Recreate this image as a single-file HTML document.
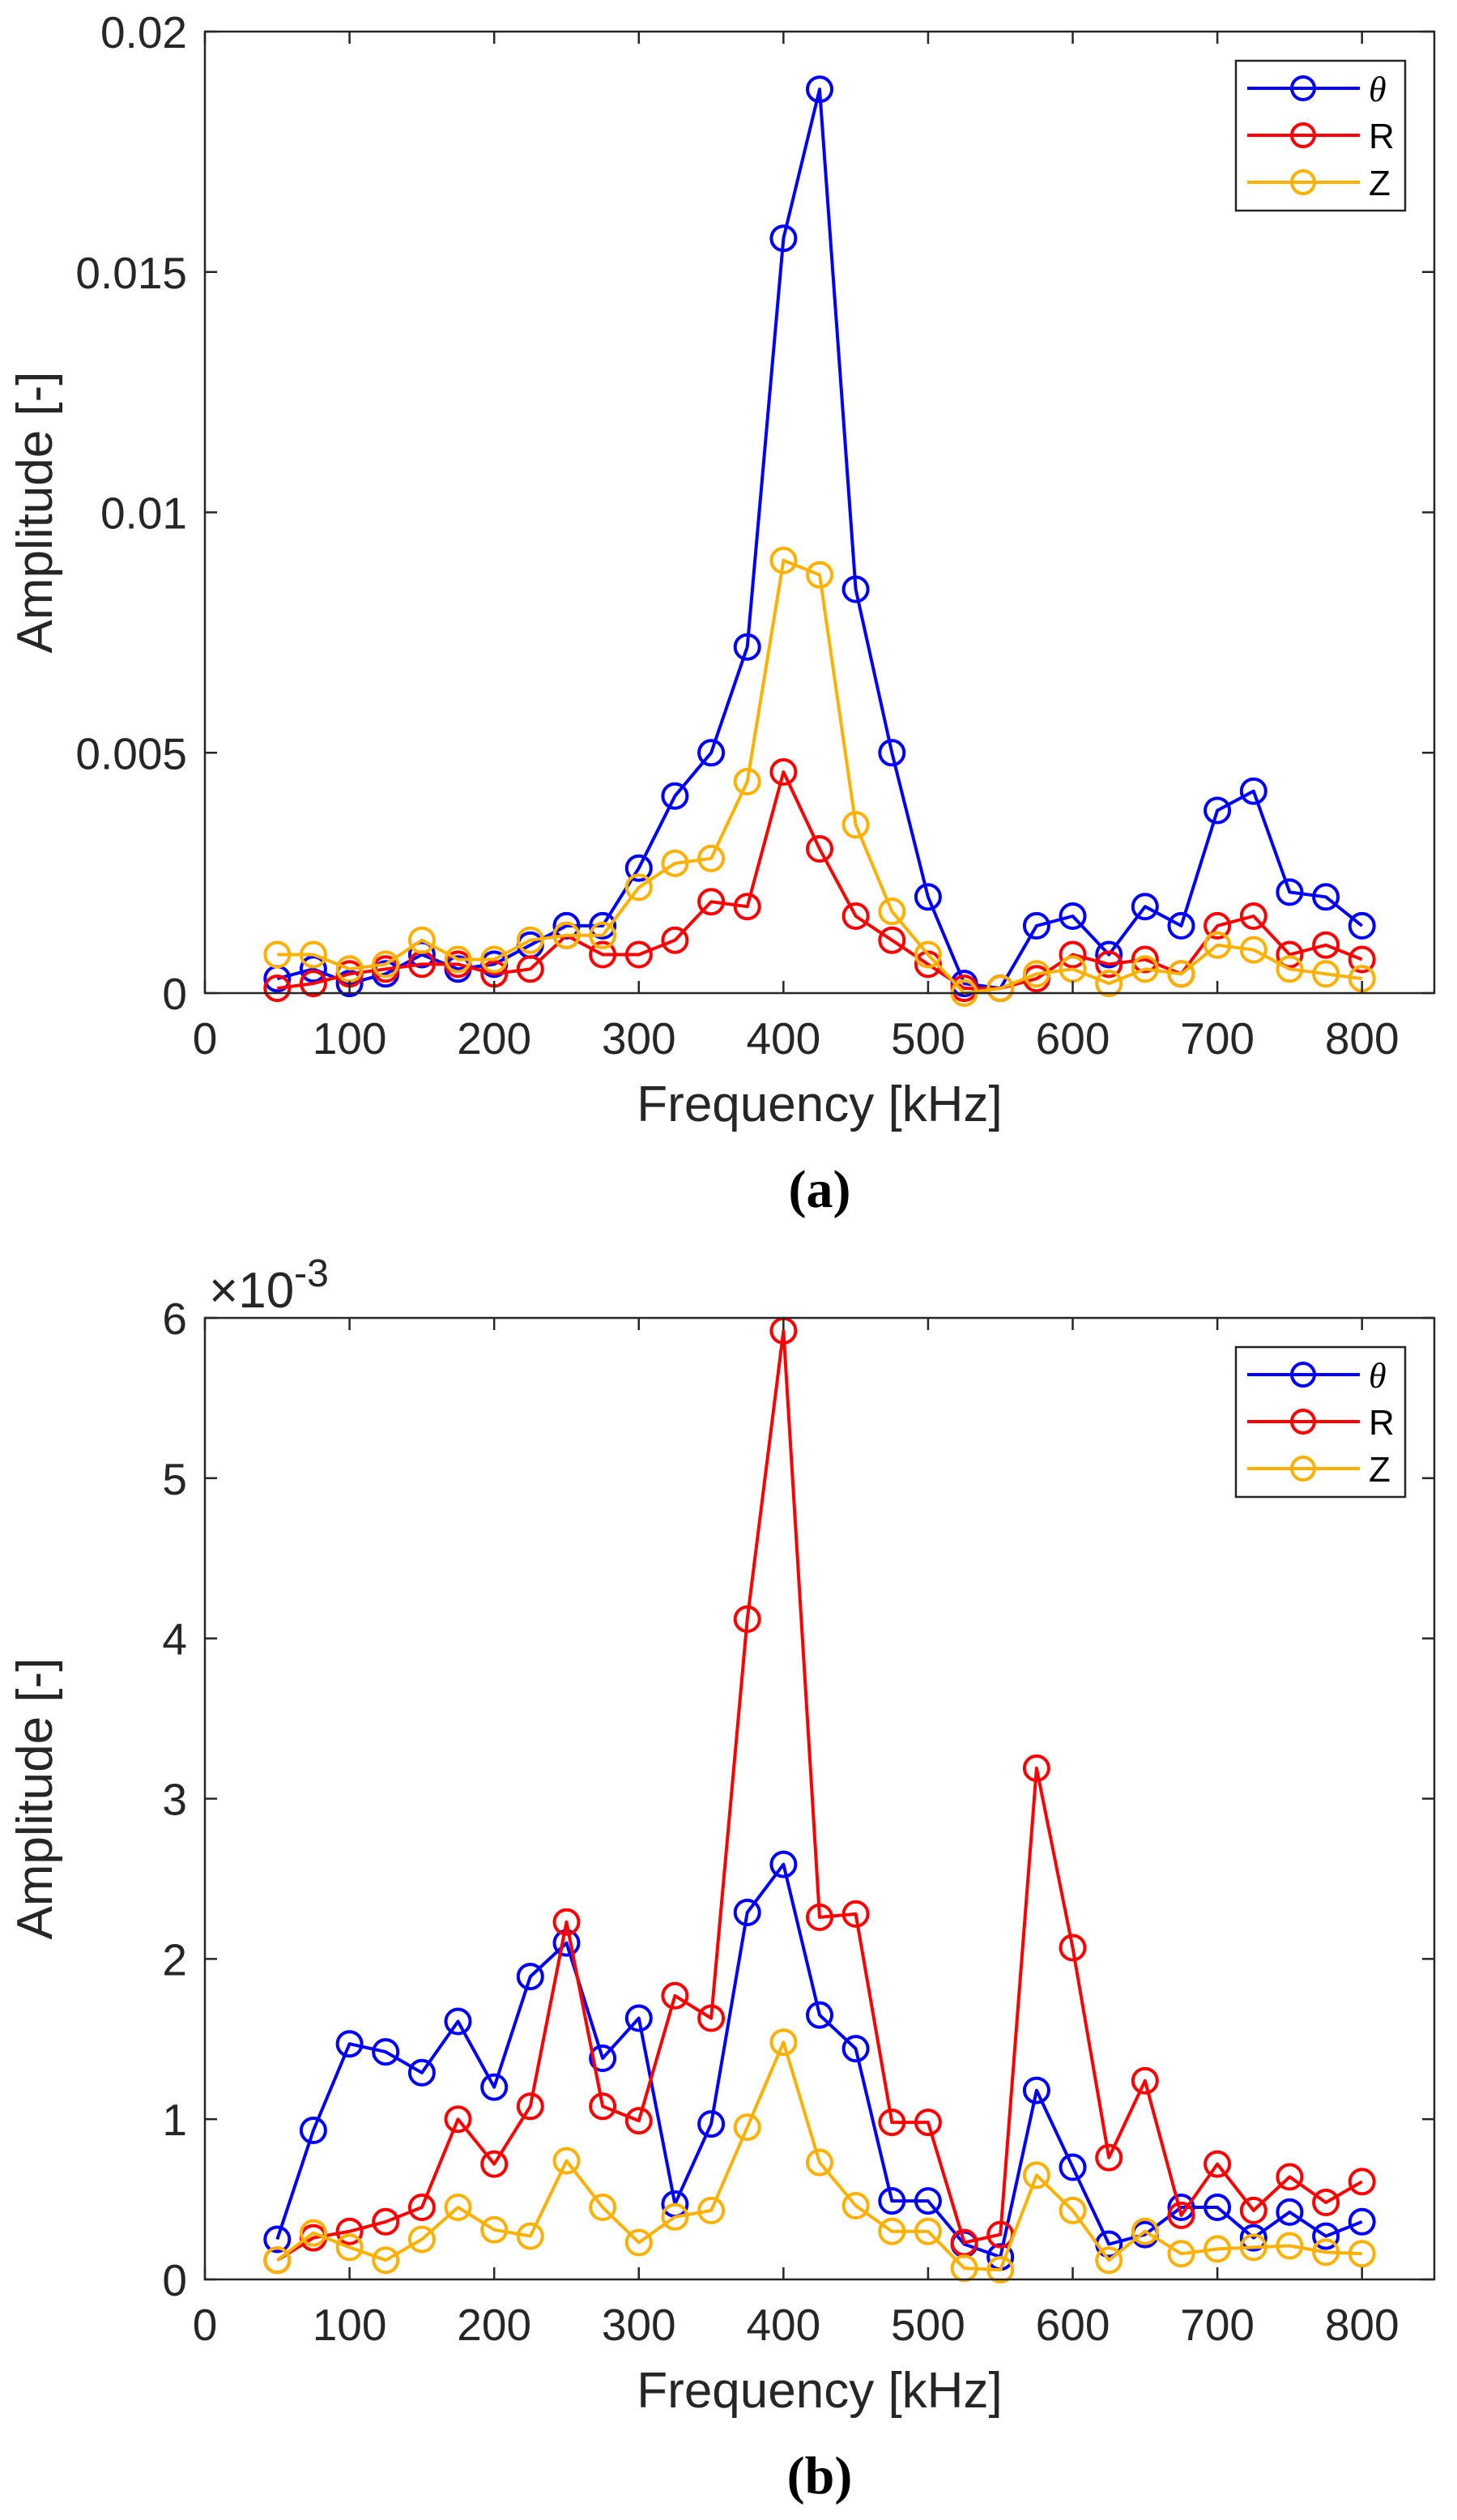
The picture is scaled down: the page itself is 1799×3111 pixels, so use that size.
<!DOCTYPE html>
<html><head><meta charset="utf-8"><style>
html,body{margin:0;padding:0;background:#fff;}
svg{display:block;}
text{font-family:"Liberation Sans",Arial,sans-serif;fill:#262626;}
</style></head><body>
<svg id="s" width="1799" height="3111" xmlns="http://www.w3.org/2000/svg"></svg>
<script>
const S=document.getElementById('s');
let h='';
const L=253,R=1771;
const xs=[];for(let f=50;f<=800;f+=25)xs.push(f);
const X=f=>L+(R-L)*f/850;
function plot(top,bot,ymax,ticks,labels,data,tag){
  const Y=v=>bot-(bot-top)*v/ymax;
  const cols=['#0000FF','#FF0000','#FFB000'];
  data.forEach((d,i)=>{
    let p=d.map((v,j)=>X(xs[j]).toFixed(1)+','+Y(v).toFixed(1)).join(' ');
    h+=`<polyline points="${p}" fill="none" stroke="${cols[i]}" stroke-width="4" stroke-linejoin="round"/>`;
    d.forEach((v,j)=>{h+=`<circle cx="${X(xs[j]).toFixed(1)}" cy="${Y(v).toFixed(1)}" r="15" fill="none" stroke="${cols[i]}" stroke-width="4"/>`;});
  });
  h+=`<rect x="${L}" y="${top}" width="${R-L}" height="${bot-top}" fill="none" stroke="#262626" stroke-width="2.5"/>`;
  for(let f=0;f<=800;f+=100){const x=X(f);
    h+=`<line x1="${x}" y1="${bot}" x2="${x}" y2="${bot-15}" stroke="#262626" stroke-width="2.5"/><line x1="${x}" y1="${top}" x2="${x}" y2="${top+15}" stroke="#262626" stroke-width="2.5"/>`;
    h+=`<text x="${x}" y="${bot+75}" font-size="55" text-anchor="middle">${f}</text>`;}
  ticks.forEach((t,i)=>{const y=Y(t);
    h+=`<line x1="${L}" y1="${y}" x2="${L+15}" y2="${y}" stroke="#262626" stroke-width="2.5"/><line x1="${R}" y1="${y}" x2="${R-15}" y2="${y}" stroke="#262626" stroke-width="2.5"/>`;
    h+=`<text x="231" y="${y+20}" font-size="55" text-anchor="end">${labels[i]}</text>`;});
  h+=`<text x="${(L+R)/2}" y="${bot+158}" font-size="62" text-anchor="middle">Frequency [kHz]</text>`;
  const cy=(top+bot)/2;
  h+=`<text transform="translate(64,${cy}) rotate(-90)" font-size="62" text-anchor="middle">Amplitude [-]</text>`;
  h+=`<text x="${(L+R)/2}" y="${bot+264}" font-size="66" font-weight="bold" text-anchor="middle" style="font-family:'Liberation Serif',serif;fill:#000">(${tag})</text>`;
  const lt=top+36;
  h+=`<rect x="1526" y="${lt}" width="209" height="185" fill="#fff" stroke="#262626" stroke-width="2.5"/>`;
  const nm=['θ','R','Z'];
  [0,1,2].forEach(i=>{const y=lt+34+58*i;
    h+=`<line x1="1540" y1="${y}" x2="1679" y2="${y}" stroke="${cols[i]}" stroke-width="4"/><circle cx="1609" cy="${y}" r="14" fill="none" stroke="${cols[i]}" stroke-width="4"/>`;
    h+=`<text x="1690" y="${y+16}" font-size="44" style="fill:#000;${i==0?"font-family:'Liberation Serif',serif;font-style:italic":""}">${nm[i]}</text>`;});
}
const a=[
[0.0003,0.0005,0.0002,0.0004,0.0008,0.0005,0.0006,0.001,0.0014,0.0014,0.0026,0.0041,0.0050,0.0072,0.0157,0.0188,0.0084,0.0050,0.0020,0.0002,0.0001,0.0014,0.0016,0.0008,0.0018,0.0014,0.0038,0.0042,0.0021,0.0020,0.0014],
[0.0001,0.0002,0.0004,0.0005,0.0006,0.0006,0.0004,0.0005,0.0012,0.0008,0.0008,0.0011,0.0019,0.0018,0.0046,0.0030,0.0016,0.0011,0.0006,0.0001,0.0001,0.0003,0.0008,0.0006,0.0007,0.0004,0.0014,0.0016,0.0008,0.0010,0.0007],
[0.0008,0.0008,0.0005,0.0006,0.0011,0.0007,0.0007,0.0011,0.0012,0.0012,0.0022,0.0027,0.0028,0.0044,0.0090,0.0087,0.0035,0.0017,0.0008,0.0000,0.0001,0.0004,0.0005,0.0002,0.0005,0.0004,0.0010,0.0009,0.0005,0.0004,0.0003]];
const b=[
[0.25,0.93,1.47,1.42,1.29,1.61,1.20,1.89,2.10,1.38,1.63,0.47,0.97,2.29,2.59,1.65,1.44,0.49,0.49,0.22,0.14,1.18,0.70,0.22,0.28,0.45,0.45,0.26,0.42,0.27,0.36],
[0.12,0.26,0.30,0.36,0.45,1.00,0.72,1.08,2.23,1.08,0.99,1.77,1.63,4.12,5.92,2.26,2.28,0.98,0.98,0.23,0.28,3.19,2.07,0.76,1.24,0.40,0.72,0.43,0.64,0.48,0.61],
[0.12,0.29,0.20,0.12,0.25,0.45,0.31,0.27,0.74,0.45,0.23,0.39,0.43,0.95,1.48,0.73,0.46,0.30,0.30,0.07,0.06,0.65,0.43,0.12,0.30,0.16,0.19,0.20,0.21,0.17,0.16]];
plot(39,1226,0.02,[0,0.005,0.01,0.015,0.02],['0','0.005','0.01','0.015','0.02'],a,'a');
plot(1627,2814,6,[0,1,2,3,4,5,6],['0','1','2','3','4','5','6'],b,'b');
h+=`<text x="258" y="1614" font-size="62">×10<tspan font-size="48" dy="-26">-3</tspan></text>`;
S.innerHTML=h;
</script>
</body></html>
